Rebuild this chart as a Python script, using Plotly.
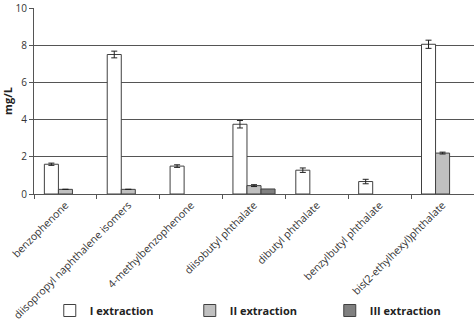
import plotly.graph_objects as go

compounds = [
    "benzophenone",
    "diisopropyl naphthalene isomers",
    "4-methylbenzophenone",
    "diisobutyl phthalate",
    "dibutyl phthalate",
    "benzylbutyl phthalate",
    "bis(2-ethylhexyl)phthalate",
]

extraction_1 = [1.6, 7.5, 1.5, 3.75, 1.28, 0.67, 8.05]
extraction_1_err = [0.06, 0.18, 0.07, 0.2, 0.12, 0.12, 0.22]
extraction_2 = [0.25, 0.25, None, 0.45, None, None, 2.2]
extraction_2_err = [None, None, None, 0.05, None, None, 0.05]
extraction_3 = [None, None, None, 0.27, None, None, None]

series = [
    ("<b>I extraction</b>", extraction_1, extraction_1_err, "white"),
    ("<b>II extraction</b>", extraction_2, extraction_2_err, "#c0c0c0"),
    ("<b>III extraction</b>", extraction_3, None, "#808080"),
]

fig = go.Figure()
for name, vals, err, color in series:
    error_y = None
    if err is not None:
        error_y = dict(
            type="data",
            array=err,
            visible=True,
            color="#222222",
            thickness=1,
            width=3,
        )
    fig.add_trace(
        go.Bar(
            name=name,
            x=compounds,
            y=vals,
            marker=dict(color=color, line=dict(color="#404040", width=1)),
            error_y=error_y,
        )
    )

fig.update_layout(
    width=474,
    height=325,
    margin=dict(l=34, r=0, t=8, b=131, autoexpand=False),
    barmode="group",
    bargap=0.33,
    bargroupgap=0,
    plot_bgcolor="white",
    paper_bgcolor="white",
    font=dict(family="Open Sans, Liberation Sans, sans-serif", size=10, color="#333333"),
    legend=dict(
        orientation="h",
        x=0.105,
        xref="container",
        xanchor="left",
        y=-0.02,
        yref="container",
        yanchor="bottom",
        entrywidth=95,
        font=dict(size=11, color="#222222"),
        itemwidth=30,
        traceorder="normal",
    ),
    showlegend=True,
)

fig.update_yaxes(
    range=[0, 10],
    dtick=2,
    showgrid=True,
    gridcolor="#555555",
    gridwidth=1,
    showline=True,
    linecolor="#555555",
    linewidth=1,
    ticks="outside",
    ticklen=4,
    tickcolor="#555555",
    zeroline=False,
    automargin=False,
    ticklabeloverflow="allow",
    tickfont=dict(size=10),
    title=dict(text="<b>mg/L</b>", font=dict(size=11, color="#222222"), standoff=6),
)

fig.update_xaxes(
    type="category",
    tickangle=-45,
    showline=True,
    linecolor="#555555",
    linewidth=1,
    ticks="outside",
    tickson="boundaries",
    ticklen=4,
    tickcolor="#555555",
    automargin=False,
    ticklabeloverflow="allow",
    tickfont=dict(size=10.5),
    showgrid=False,
)

fig.write_html("out.html")
